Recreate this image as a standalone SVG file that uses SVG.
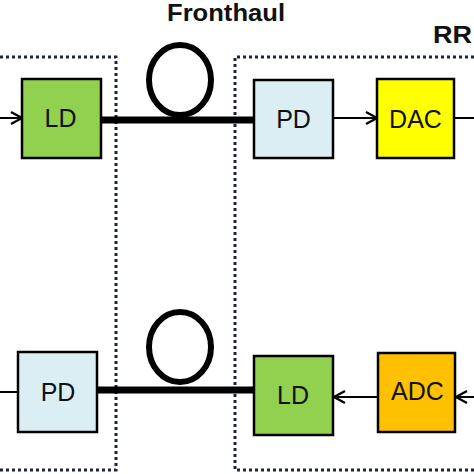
<svg xmlns="http://www.w3.org/2000/svg" width="474" height="474" viewBox="0 0 474 474">
<style>
.box{stroke:#000;stroke-width:2.5}
.lbl{font-family:"Liberation Sans",Arial,sans-serif;font-size:25px;text-anchor:middle;fill:#111}
.ttl{font-family:"Liberation Sans",Arial,sans-serif;font-weight:bold;fill:#111}
.dot{fill:none;stroke:#1b2540;stroke-width:3;stroke-dasharray:3 3}
.fiber{fill:none;stroke:#000;stroke-width:7}
.loop{fill:none;stroke:#000;stroke-width:6}
.conn{fill:none;stroke:#000;stroke-width:2}
</style>
<defs>
<marker id="ah" markerUnits="userSpaceOnUse" markerWidth="14" markerHeight="14" refX="12" refY="7" orient="auto">
<path d="M1,1 L12,7 L1,13" fill="none" stroke="#000" stroke-width="2.2"/>
</marker>
</defs>
<rect width="474" height="474" fill="#fff"/>
<text class="ttl" x="226" y="21" font-size="24" text-anchor="middle" textLength="118" lengthAdjust="spacingAndGlyphs">Fronthaul</text>
<text class="ttl" x="433" y="43" font-size="23" textLength="39" lengthAdjust="spacingAndGlyphs">RR</text>
<g id="regions">
<path class="dot" d="M0,57 H116 V470 H0"/>
<path class="dot" d="M474,57 H235 V470 H474"/>
</g>
<g id="fibers">
<line class="fiber" x1="101" y1="120" x2="254" y2="120"/>
<ellipse class="loop" cx="180" cy="80" rx="31" ry="35"/>
<line class="fiber" x1="97" y1="390" x2="254" y2="390"/>
<ellipse class="loop" cx="180" cy="347" rx="31" ry="35"/>
</g>
<g id="connectors">
<line class="conn" x1="0" y1="118" x2="22" y2="118" marker-end="url(#ah)"/>
<line class="conn" x1="333" y1="118" x2="377" y2="118" marker-end="url(#ah)"/>
<line class="conn" x1="454" y1="118" x2="474" y2="118"/>
<line class="conn" x1="0" y1="392" x2="18" y2="392"/>
<line class="conn" x1="378" y1="397" x2="334" y2="397" marker-end="url(#ah)"/>
<line class="conn" x1="474" y1="397" x2="456" y2="397" marker-end="url(#ah)"/>
</g>
<g id="ld-top"><rect class="box" x="22" y="79" width="79" height="79" fill="#92d050"/><text class="lbl" x="60.5" y="127">LD</text></g>
<g id="pd-top"><rect class="box" x="254" y="80" width="79" height="78" fill="#dbeef4"/><text class="lbl" x="293.5" y="128">PD</text></g>
<g id="dac"><rect class="box" x="377" y="79" width="77" height="79" fill="#ffff00"/><text class="lbl" x="415.5" y="128">DAC</text></g>
<g id="pd-bottom"><rect class="box" x="18" y="352" width="79" height="80" fill="#dbeef4"/><text class="lbl" x="58" y="401">PD</text></g>
<g id="ld-bottom"><rect class="box" x="254" y="356" width="79" height="79" fill="#92d050"/><text class="lbl" x="293" y="404">LD</text></g>
<g id="adc"><rect class="box" x="378" y="353" width="77" height="79" fill="#ffc000"/><text class="lbl" x="417.5" y="400">ADC</text></g>
</svg>
